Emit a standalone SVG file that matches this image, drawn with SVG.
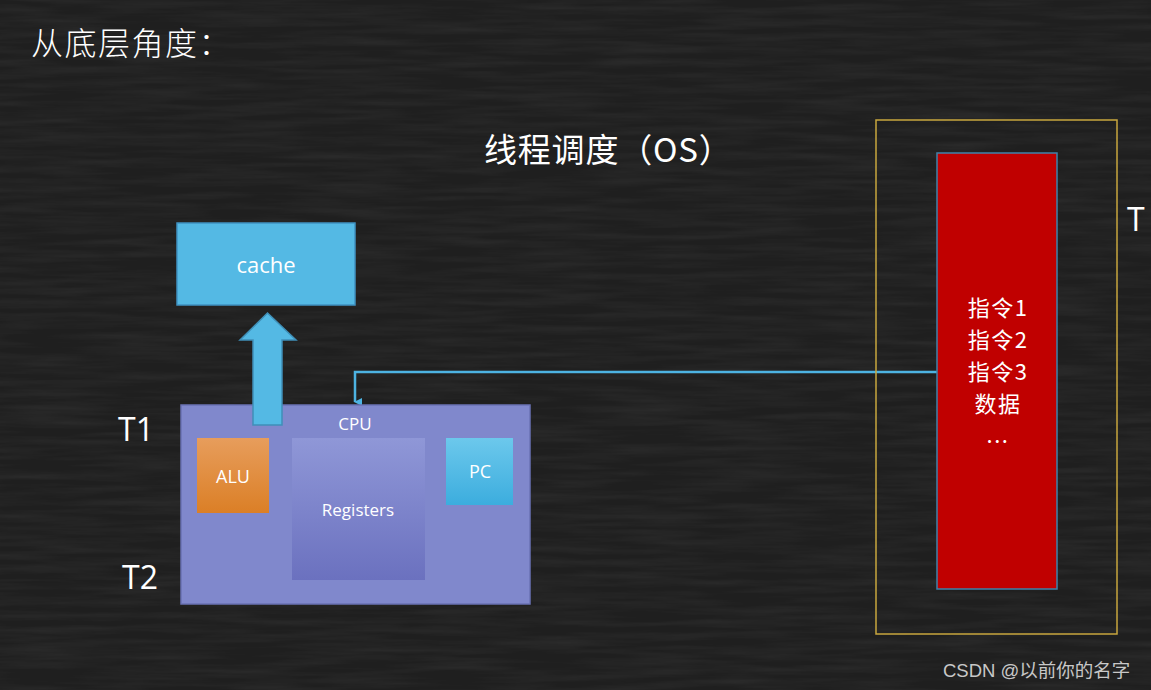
<svg xmlns="http://www.w3.org/2000/svg" width="1151" height="690" viewBox="0 0 1151 690">
<defs>
<style>
.t{fill:#ffffff;font-family:"Open Sans","Noto Sans","Noto Sans CJK SC",sans-serif}
.cjk{fill:#ffffff;font-family:"Noto Sans CJK SC","Noto Sans",sans-serif}
.box{font-family:"Open Sans","Noto Sans",sans-serif;fill:#ffffff;text-anchor:middle}
</style>
<linearGradient id="gAlu" x1="0" y1="0" x2="0" y2="1"><stop offset="0" stop-color="#e79d5c"/><stop offset="1" stop-color="#db7f26"/></linearGradient>
<linearGradient id="gReg" x1="0" y1="0" x2="0" y2="1"><stop offset="0" stop-color="#8f97d7"/><stop offset="1" stop-color="#6b71bf"/></linearGradient>
<linearGradient id="gPc" x1="0" y1="0" x2="0" y2="1"><stop offset="0" stop-color="#6cc8ec"/><stop offset="1" stop-color="#3cadde"/></linearGradient>
<marker id="arr" markerWidth="8" markerHeight="8" refX="4" refY="7" orient="auto" markerUnits="userSpaceOnUse"><path d="M0,0 L8,0 L4,8 Z" fill="#4db3e2"/></marker>
<filter id="chalk" x="0" y="0" width="100%" height="100%">
<feTurbulence type="fractalNoise" baseFrequency="0.01 0.15" numOctaves="3" seed="7" result="n"/>
<feColorMatrix type="matrix" values="0 0 0 0 1  0 0 0 0 1  0 0 0 0 1  0 0 0 0.25 -0.08"/>
</filter>
</defs>
<rect x="0" y="0" width="1151" height="690" fill="#1f1f1f"/>
<rect x="0" y="0" width="1151" height="690" filter="url(#chalk)" opacity="0.35"/>

<text class="cjk" x="31" y="55" font-size="32" font-weight="300" letter-spacing="1.5">从底层角度：</text>
<text class="cjk" x="484" y="162" font-size="33" letter-spacing="0.8">线程调度（OS）</text>
<text class="t" x="118" y="441" font-size="32">T1</text>
<text class="t" x="122" y="589" font-size="32">T2</text>
<text class="t" x="1127" y="231" font-size="32">T</text>

<g id="connectors">
<path d="M937,372 H355 V402" fill="none" stroke="#4db3e2" stroke-width="2.5" marker-end="url(#arr)"/>
</g>

<g id="cache">
<rect x="177" y="223" width="178" height="82" fill="#54b9e4" stroke="#3f92c2" stroke-width="1.5"/>
<text class="box" x="266" y="273" font-size="22">cache</text>
</g>

<g id="cpu">
<rect x="181" y="405" width="349" height="199" fill="#8088cc" stroke="#6a72b4" stroke-width="1.5"/>
<text class="box" x="355" y="430" font-size="17">CPU</text>
</g>

<g id="bus-arrow">
<path d="M253,425 V340 H240 L267.5,313 L296,340 H282 V425 Z" fill="#54b9e4" stroke="#3f8fb8" stroke-width="1.5"/>
</g>

<g id="alu">
<rect x="197" y="438" width="72" height="75" fill="url(#gAlu)"/>
<text class="box" x="233" y="483" font-size="18">ALU</text>
</g>

<g id="registers">
<rect x="292" y="438" width="133" height="142" fill="url(#gReg)"/>
<text class="box" x="358" y="516" font-size="17">Registers</text>
</g>

<g id="pc">
<rect x="446" y="438" width="67" height="67" fill="url(#gPc)"/>
<text class="box" x="480" y="478" font-size="18">PC</text>
</g>

<g id="thread">
<rect x="876" y="120" width="241" height="514" fill="none" stroke="#c8a63e" stroke-width="1.5"/>
<rect x="937" y="153" width="120" height="436" fill="#c00000" stroke="#3f82aa" stroke-width="1.5"/>
<g class="cjk" font-size="22" letter-spacing="1.5" text-anchor="middle">
<text x="998" y="316">指令1</text>
<text x="998" y="348">指令2</text>
<text x="998" y="380">指令3</text>
<text x="998" y="412">数据</text>
<text x="998" y="443">...</text>
</g>
</g>

<text x="943" y="677" font-size="18.5" fill="#c8c8c8" font-family="Liberation Sans,Noto Sans CJK SC,sans-serif">CSDN @以前你的名字</text>
</svg>
